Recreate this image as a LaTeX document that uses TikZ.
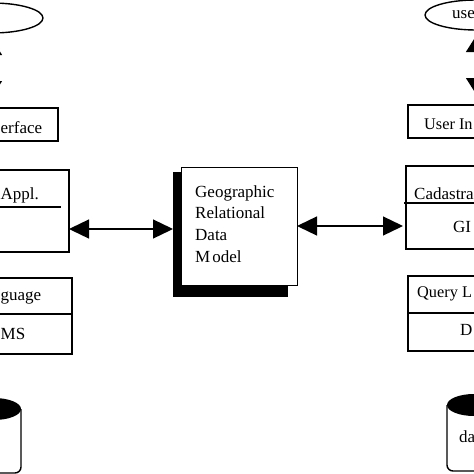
\documentclass[tikz,border=0pt]{standalone}
\usepackage{fontspec}
\setmainfont{Liberation Serif}
\usetikzlibrary{arrows.meta,shapes.geometric}
\begin{document}
\begin{tikzpicture}[x=1pt,y=-1pt,
  boxn/.style={draw,line width=1.4pt,inner sep=0pt,outer sep=0pt},
  ell/.style={draw,ellipse,line width=1.4pt,inner sep=0pt,outer sep=0pt},
  lbl/.style={inner sep=0pt,font=\fontsize{17}{20}\selectfont},
  edgelbl/.style={inner sep=0pt,font=\fontsize{16.3}{20}\selectfont},
  dbl/.style={line width=1.3pt,{Triangle[length=20pt,width=19pt]}-{Triangle[length=20pt,width=19pt]}},
  vdbl/.style={line width=1.3pt,{Triangle[length=16pt,width=20pt]}-{Triangle[length=16pt,width=20pt]}},
  divl/.style={line width=1.4pt},
]
\useasboundingbox (0,0) rectangle (474,474);
\clip (0,0) rectangle (474,474);

% user ellipses
\node[ell,minimum width=102pt,minimum height=30pt] (userL) at (-8,18) {};
\node[ell,minimum width=102pt,minimum height=30pt] (userR) at (476,15) {};
\node[lbl,anchor=base west] (userRt) at (452,18) {use};

% user interface boxes
\node[boxn,minimum width=178pt,minimum height=33pt] (uiL) at (-31,124.5) {};
\node[boxn,minimum width=192pt,minimum height=33pt] (uiR) at (504,121.5) {};
\node[lbl,anchor=base west] (uiLt) at (0.5,133) {erface};
\node[edgelbl,anchor=base west] (uiRt) at (424,129) {User In};

% vertical double arrows
\draw[vdbl,shorten <=6pt,shorten >=11pt] (userL.south) -- (userL.south |- uiL.north);
\draw[vdbl,shorten <=6pt,shorten >=11pt] (userR.south) -- (userR.south |- uiR.north);

% application boxes
\node[boxn,minimum width=189pt,minimum height=82pt] (applL) at (-25.5,211) {};
\draw[divl] (-120,207) -- (61,207);
\node[lbl,anchor=base west] (applLt) at (0.5,199) {Appl.};
\node[boxn,minimum width=194pt,minimum height=83pt] (cadR) at (503,207.5) {};
\draw[divl] (404,203) -- (600,203);
\node[lbl,anchor=base west] (cadRt) at (414,199) {Cadastra};
\node[lbl,anchor=base west] (gisRt) at (453,232) {GI};

% central model with shadow
\node[fill=black,inner sep=0pt,outer sep=0pt,minimum width=115pt,minimum height=125pt] (shadow) at (230.5,234.5) {};
\node[boxn,line width=1pt,fill=white,minimum width=116pt,minimum height=118pt] (model) at (239,226) {};
\node[lbl,anchor=base west] (m1) at (195,197) {Geographic};
\node[lbl,anchor=base west] (m2) at (195,218) {Relational};
\node[lbl,anchor=base west] (m3) at (195,240) {Data};
\node[lbl,anchor=base west] (m4) at (195,262) {M\hspace{2pt}odel};

% horizontal double arrows
\draw[dbl] (applL.east |- 0,229) -- (shadow.west |- 0,229);
\draw[dbl,shorten >=3pt] (model.east |- 0,226) -- (cadR.west |- 0,226);

% query language boxes
\node[boxn,minimum width=192pt,minimum height=76pt] (qlL) at (-24,316) {};
\draw[divl] (-120,314) -- (qlL.east |- 0,314);
\node[lbl,anchor=base west] (qlLt) at (0.5,300) {guage};
\node[lbl,anchor=base west] (dbLt) at (0.5,339) {MS};
\node[boxn,minimum width=192pt,minimum height=75pt] (qlR) at (504,313.5) {};
\draw[divl] (qlR.west |- 0,313) -- (600,313);
\node[edgelbl,anchor=base west] (qlRt) at (417,297) {Query L};
\node[lbl,anchor=base west] (dbRt) at (460,335) {D};

% databases
\draw[line width=1.4pt,rounded corners=6pt] (-33,409) -- (-33,473) -- (21,473) -- (21,409);
\fill (-6,409) ellipse [x radius=27pt,y radius=11pt];
\draw[line width=1.4pt,rounded corners=6pt] (447,405) -- (447,471) -- (501,471) -- (501,405);
\fill (474,405) ellipse [x radius=27pt,y radius=11pt];
\node[lbl,anchor=base west] (dataRt) at (459,442) {da};
\end{tikzpicture}
\end{document}
